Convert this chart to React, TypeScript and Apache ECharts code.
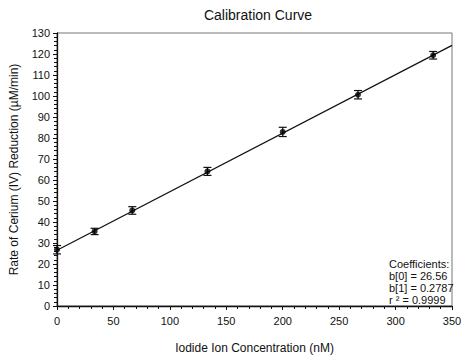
import React, { useEffect, useRef } from "react";
import * as echarts from "echarts";

const concentrations = [0, 33.3, 66.7, 133.3, 200, 266.7, 333.3];
const rates = [26.8, 35.5, 45.5, 64.1, 82.9, 100.6, 119.4];
const errors = [2.0, 1.5, 1.8, 1.9, 2.2, 2.0, 1.8];
const fitX = [0, 350];
const fitY = [26.56, 124.1];
const coefficientLines = ["Coefficients:", "b[0] = 26.56", "b[1] = 0.2787", "r ² = 0.9999"];

export default function App() {
  const ref = useRef<HTMLDivElement>(null);
  useEffect(() => {
    if (!ref.current) return;
    const chart = echarts.init(ref.current, null, { renderer: "svg" });
    const font = "Liberation Sans, Arial, sans-serif";
    const errData = concentrations.map((x, i) => [x, rates[i] - errors[i], rates[i] + errors[i]]);
    chart.setOption({
      animation: false,
      backgroundColor: "#fff",
      title: {
        text: "Calibration Curve",
        left: 253,
        textAlign: "center",
        top: 3,
        textStyle: { fontFamily: font, fontSize: 14, fontWeight: "normal", color: "#111" },
      },
      grid: {
        left: 55,
        right: 22,
        top: 33,
        bottom: 48,
        show: true,
        borderColor: "#777",
        borderWidth: 1,
      },
      xAxis: {
        type: "value",
        min: 0,
        max: 350,
        interval: 50,
        name: "Iodide Ion Concentration (nM)",
        nameLocation: "middle",
        nameGap: 36,
        nameTextStyle: { fontFamily: font, fontSize: 12, color: "#111" },
        axisLine: { show: true, lineStyle: { color: "#111", width: 1.3 } },
        axisTick: { show: true, length: 4, lineStyle: { color: "#111" } },
        minorTick: { show: true, splitNumber: 5, length: 3, lineStyle: { color: "#111" } },
        splitLine: { show: false },
        axisLabel: { fontFamily: font, fontSize: 11, color: "#111", margin: 9 },
      },
      yAxis: {
        type: "value",
        min: 0,
        max: 130,
        interval: 10,
        name: "Rate of Cerium (IV) Reduction (µM/min)",
        nameLocation: "middle",
        nameGap: 37,
        nameTextStyle: { fontFamily: font, fontSize: 12, color: "#111" },
        axisLine: { show: true, lineStyle: { color: "#111", width: 1.3 } },
        axisTick: { show: true, length: 4, lineStyle: { color: "#111" } },
        minorTick: { show: true, splitNumber: 5, length: 3, lineStyle: { color: "#111" } },
        splitLine: { show: false },
        axisLabel: { fontFamily: font, fontSize: 11, color: "#111", margin: 7 },
      },
      graphic: [
        {
          type: "text",
          x: 389,
          y: 258,
          style: {
            text: coefficientLines.join("\n"),
            fontFamily: font,
            fontSize: 11,
            lineHeight: 12,
            fill: "#111",
          },
        },
      ],
      series: [
        {
          type: "line",
          data: fitX.map((x, i) => [x, fitY[i]]),
          symbol: "none",
          lineStyle: { color: "#111", width: 1.2 },
          z: 2,
        },
        {
          type: "custom",
          data: errData,
          renderItem: (params: any, api: any) => {
            const x = api.value(0);
            const lo = api.coord([x, api.value(1)]);
            const hi = api.coord([x, api.value(2)]);
            const w = 4;
            const st = { stroke: "#111", lineWidth: 1.2 };
            return {
              type: "group",
              children: [
                { type: "line", shape: { x1: lo[0], y1: lo[1], x2: hi[0], y2: hi[1] }, style: st },
                { type: "line", shape: { x1: lo[0] - w, y1: lo[1], x2: lo[0] + w, y2: lo[1] }, style: st },
                { type: "line", shape: { x1: hi[0] - w, y1: hi[1], x2: hi[0] + w, y2: hi[1] }, style: st },
              ],
            };
          },
          z: 3,
        },
        {
          type: "scatter",
          data: concentrations.map((x, i) => [x, rates[i]]),
          symbol: "circle",
          symbolSize: 6,
          itemStyle: { color: "#000" },
          z: 4,
        },
      ],
    });
    return () => chart.dispose();
  }, []);
  return <div ref={ref} style={{ position: "fixed", left: 0, top: 0, width: 474, height: 359 }} />;
}
